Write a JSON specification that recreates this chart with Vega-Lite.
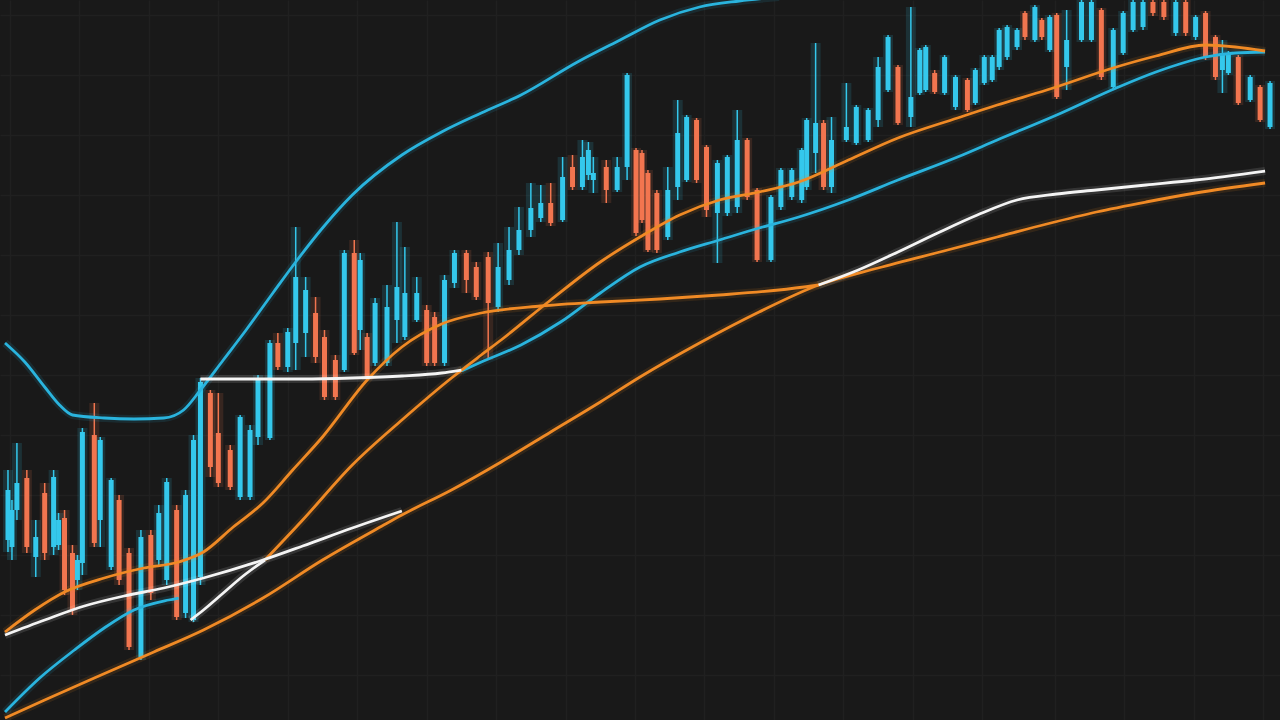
{
  "$schema": "https://vega.github.io/schema/vega-lite/v6.json",
  "width": 1280,
  "height": 720,
  "autosize": {"type": "fit", "contains": "padding"},
  "padding": 0,
  "background": "#191919",
  "config": {
    "view": {"stroke": null},
    "axis": {"labels": false, "ticks": false, "domain": false, "title": null, "grid": true, "gridColor": "#202020", "gridWidth": 1.5}
  },
  "datasets": {
    "candles": [
      {"t":3,"d":"up","o":180,"h":250,"l":168,"c":230},
      {"t":7,"d":"up","o":173,"h":220,"l":160,"c":210},
      {"t":12,"d":"up","o":210,"h":277,"l":200,"c":237},
      {"t":22,"d":"down","o":242,"h":250,"l":167,"c":173},
      {"t":31,"d":"up","o":163,"h":200,"l":143,"c":183},
      {"t":40,"d":"down","o":227,"h":237,"l":160,"c":167},
      {"t":49,"d":"up","o":173,"h":250,"l":165,"c":243},
      {"t":54,"d":"up","o":175,"h":207,"l":170,"c":200},
      {"t":60,"d":"down","o":202,"h":210,"l":125,"c":130},
      {"t":68,"d":"down","o":167,"h":175,"l":105,"c":110},
      {"t":73,"d":"up","o":140,"h":165,"l":130,"c":160},
      {"t":78,"d":"up","o":157,"h":292,"l":145,"c":288},
      {"t":90,"d":"down","o":285,"h":317,"l":173,"c":177},
      {"t":96,"d":"up","o":200,"h":283,"l":173,"c":280},
      {"t":107,"d":"up","o":153,"h":242,"l":150,"c":240},
      {"t":115,"d":"down","o":220,"h":225,"l":135,"c":140},
      {"t":125,"d":"down","o":167,"h":172,"l":70,"c":73},
      {"t":137,"d":"up","o":63,"h":190,"l":60,"c":183},
      {"t":147,"d":"down","o":185,"h":190,"l":120,"c":127},
      {"t":155,"d":"up","o":160,"h":215,"l":155,"c":207},
      {"t":163,"d":"up","o":140,"h":242,"l":135,"c":238},
      {"t":173,"d":"down","o":210,"h":215,"l":100,"c":103},
      {"t":182,"d":"up","o":107,"h":230,"l":102,"c":225},
      {"t":190,"d":"up","o":100,"h":285,"l":98,"c":280},
      {"t":197,"d":"up","o":143,"h":342,"l":135,"c":338},
      {"t":207,"d":"down","o":327,"h":330,"l":243,"c":253},
      {"t":215,"d":"down","o":287,"h":327,"l":233,"c":237},
      {"t":227,"d":"down","o":270,"h":275,"l":230,"c":233},
      {"t":237,"d":"up","o":223,"h":305,"l":220,"c":303},
      {"t":247,"d":"up","o":223,"h":295,"l":220,"c":290},
      {"t":255,"d":"up","o":283,"h":345,"l":275,"c":340},
      {"t":267,"d":"up","o":282,"h":380,"l":280,"c":377},
      {"t":275,"d":"down","o":377,"h":387,"l":350,"c":353},
      {"t":285,"d":"up","o":353,"h":392,"l":348,"c":388},
      {"t":293,"d":"up","o":377,"h":493,"l":350,"c":443},
      {"t":303,"d":"up","o":387,"h":443,"l":363,"c":430},
      {"t":313,"d":"down","o":407,"h":423,"l":357,"c":363},
      {"t":322,"d":"down","o":383,"h":390,"l":320,"c":323},
      {"t":333,"d":"down","o":360,"h":365,"l":320,"c":323},
      {"t":342,"d":"up","o":350,"h":470,"l":348,"c":467},
      {"t":352,"d":"down","o":467,"h":480,"l":365,"c":367},
      {"t":358,"d":"up","o":390,"h":467,"l":370,"c":460},
      {"t":365,"d":"down","o":383,"h":387,"l":340,"c":343},
      {"t":373,"d":"up","o":357,"h":422,"l":354,"c":417},
      {"t":385,"d":"up","o":357,"h":435,"l":354,"c":413},
      {"t":395,"d":"up","o":400,"h":498,"l":377,"c":433},
      {"t":403,"d":"up","o":383,"h":473,"l":380,"c":427},
      {"t":415,"d":"up","o":400,"h":443,"l":398,"c":427},
      {"t":425,"d":"down","o":410,"h":415,"l":354,"c":357},
      {"t":433,"d":"down","o":403,"h":408,"l":354,"c":357},
      {"t":443,"d":"up","o":357,"h":445,"l":354,"c":440},
      {"t":453,"d":"up","o":437,"h":470,"l":432,"c":467},
      {"t":465,"d":"down","o":467,"h":470,"l":427,"c":440},
      {"t":475,"d":"down","o":453,"h":458,"l":420,"c":423},
      {"t":487,"d":"down","o":463,"h":468,"l":360,"c":417},
      {"t":497,"d":"up","o":413,"h":477,"l":408,"c":453},
      {"t":508,"d":"up","o":440,"h":493,"l":435,"c":470},
      {"t":518,"d":"up","o":470,"h":513,"l":465,"c":490},
      {"t":530,"d":"up","o":490,"h":537,"l":483,"c":512},
      {"t":540,"d":"up","o":502,"h":535,"l":498,"c":517},
      {"t":550,"d":"down","o":517,"h":537,"l":494,"c":497},
      {"t":562,"d":"up","o":500,"h":563,"l":498,"c":543},
      {"t":572,"d":"down","o":553,"h":565,"l":530,"c":533},
      {"t":582,"d":"up","o":533,"h":580,"l":530,"c":563},
      {"t":588,"d":"up","o":545,"h":578,"l":540,"c":570},
      {"t":593,"d":"up","o":540,"h":563,"l":527,"c":547},
      {"t":606,"d":"down","o":553,"h":560,"l":517,"c":530},
      {"t":617,"d":"up","o":530,"h":563,"l":528,"c":553},
      {"t":627,"d":"up","o":553,"h":647,"l":540,"c":645},
      {"t":636,"d":"down","o":570,"h":572,"l":484,"c":487},
      {"t":642,"d":"down","o":567,"h":570,"l":497,"c":500},
      {"t":648,"d":"down","o":547,"h":550,"l":468,"c":470},
      {"t":657,"d":"down","o":527,"h":530,"l":467,"c":470},
      {"t":668,"d":"up","o":483,"h":553,"l":480,"c":530},
      {"t":678,"d":"up","o":533,"h":620,"l":520,"c":587},
      {"t":687,"d":"up","o":540,"h":605,"l":538,"c":603},
      {"t":697,"d":"down","o":600,"h":602,"l":537,"c":540},
      {"t":707,"d":"down","o":573,"h":575,"l":503,"c":510},
      {"t":718,"d":"up","o":507,"h":560,"l":457,"c":557},
      {"t":728,"d":"up","o":507,"h":565,"l":504,"c":563},
      {"t":738,"d":"up","o":513,"h":610,"l":507,"c":580},
      {"t":748,"d":"down","o":580,"h":582,"l":520,"c":523},
      {"t":758,"d":"down","o":530,"h":532,"l":458,"c":460},
      {"t":772,"d":"up","o":460,"h":525,"l":458,"c":523},
      {"t":782,"d":"up","o":513,"h":552,"l":510,"c":550},
      {"t":793,"d":"up","o":523,"h":552,"l":520,"c":550},
      {"t":803,"d":"up","o":520,"h":572,"l":517,"c":570},
      {"t":808,"d":"up","o":533,"h":602,"l":530,"c":600},
      {"t":817,"d":"up","o":567,"h":677,"l":547,"c":597},
      {"t":825,"d":"down","o":597,"h":600,"l":530,"c":533},
      {"t":833,"d":"up","o":533,"h":603,"l":527,"c":580},
      {"t":848,"d":"up","o":580,"h":637,"l":578,"c":593},
      {"t":858,"d":"up","o":577,"h":615,"l":575,"c":613},
      {"t":870,"d":"up","o":580,"h":612,"l":578,"c":610},
      {"t":880,"d":"up","o":600,"h":663,"l":593,"c":653},
      {"t":890,"d":"up","o":630,"h":685,"l":628,"c":683},
      {"t":900,"d":"down","o":653,"h":655,"l":595,"c":597},
      {"t":913,"d":"up","o":603,"h":713,"l":593,"c":623},
      {"t":922,"d":"up","o":627,"h":672,"l":625,"c":670},
      {"t":928,"d":"up","o":630,"h":675,"l":628,"c":673},
      {"t":937,"d":"down","o":647,"h":650,"l":626,"c":628},
      {"t":947,"d":"up","o":627,"h":665,"l":625,"c":663},
      {"t":958,"d":"up","o":613,"h":645,"l":610,"c":643},
      {"t":970,"d":"down","o":640,"h":642,"l":608,"c":610},
      {"t":978,"d":"up","o":617,"h":652,"l":615,"c":650},
      {"t":987,"d":"up","o":637,"h":665,"l":635,"c":663},
      {"t":995,"d":"up","o":640,"h":665,"l":638,"c":663},
      {"t":1002,"d":"up","o":653,"h":692,"l":650,"c":690},
      {"t":1010,"d":"up","o":663,"h":695,"l":660,"c":693},
      {"t":1020,"d":"up","o":673,"h":692,"l":670,"c":690},
      {"t":1028,"d":"down","o":707,"h":709,"l":680,"c":683},
      {"t":1038,"d":"up","o":680,"h":715,"l":678,"c":713},
      {"t":1045,"d":"down","o":700,"h":702,"l":680,"c":683},
      {"t":1053,"d":"up","o":670,"h":705,"l":668,"c":703},
      {"t":1060,"d":"down","o":705,"h":707,"l":621,"c":623},
      {"t":1070,"d":"up","o":653,"h":710,"l":630,"c":680},
      {"t":1085,"d":"up","o":680,"h":725,"l":678,"c":718},
      {"t":1095,"d":"up","o":680,"h":725,"l":678,"c":718},
      {"t":1105,"d":"down","o":710,"h":712,"l":640,"c":643},
      {"t":1117,"d":"up","o":633,"h":692,"l":631,"c":690},
      {"t":1127,"d":"up","o":667,"h":709,"l":665,"c":707},
      {"t":1137,"d":"up","o":690,"h":725,"l":688,"c":718},
      {"t":1147,"d":"up","o":693,"h":725,"l":690,"c":718},
      {"t":1157,"d":"down","o":718,"h":725,"l":704,"c":707},
      {"t":1168,"d":"down","o":718,"h":725,"l":700,"c":703},
      {"t":1180,"d":"up","o":687,"h":725,"l":684,"c":718},
      {"t":1190,"d":"down","o":718,"h":725,"l":684,"c":687},
      {"t":1200,"d":"up","o":683,"h":705,"l":680,"c":703},
      {"t":1210,"d":"down","o":707,"h":709,"l":660,"c":663},
      {"t":1220,"d":"down","o":683,"h":685,"l":640,"c":643},
      {"t":1227,"d":"up","o":650,"h":680,"l":627,"c":665},
      {"t":1233,"d":"up","o":647,"h":669,"l":645,"c":667},
      {"t":1243,"d":"down","o":663,"h":665,"l":615,"c":617},
      {"t":1255,"d":"up","o":620,"h":645,"l":618,"c":643},
      {"t":1265,"d":"down","o":633,"h":635,"l":598,"c":600},
      {"t":1275,"d":"up","o":593,"h":639,"l":591,"c":637}
    ],
    "lines": [
      {"s":"bbU","k":"cyan","t":0,"v":377},{"s":"bbU","k":"cyan","t":20,"v":358},{"s":"bbU","k":"cyan","t":40,"v":333},{"s":"bbU","k":"cyan","t":55,"v":315},{"s":"bbU","k":"cyan","t":68,"v":305},{"s":"bbU","k":"cyan","t":100,"v":302},{"s":"bbU","k":"cyan","t":130,"v":301},{"s":"bbU","k":"cyan","t":160,"v":302},{"s":"bbU","k":"cyan","t":180,"v":310},{"s":"bbU","k":"cyan","t":197,"v":330},{"s":"bbU","k":"cyan","t":220,"v":360},{"s":"bbU","k":"cyan","t":243,"v":390},{"s":"bbU","k":"cyan","t":270,"v":427},{"s":"bbU","k":"cyan","t":293,"v":458},{"s":"bbU","k":"cyan","t":320,"v":492},{"s":"bbU","k":"cyan","t":350,"v":525},{"s":"bbU","k":"cyan","t":400,"v":565},{"s":"bbU","k":"cyan","t":440,"v":588},{"s":"bbU","k":"cyan","t":480,"v":607},{"s":"bbU","k":"cyan","t":520,"v":625},{"s":"bbU","k":"cyan","t":577,"v":658},{"s":"bbU","k":"cyan","t":620,"v":680},{"s":"bbU","k":"cyan","t":660,"v":700},{"s":"bbU","k":"cyan","t":700,"v":713},{"s":"bbU","k":"cyan","t":740,"v":719},{"s":"bbU","k":"cyan","t":780,"v":723},
      {"s":"bbL1","k":"cyan","t":0,"v":8},{"s":"bbL1","k":"cyan","t":35,"v":42},{"s":"bbL1","k":"cyan","t":70,"v":70},{"s":"bbL1","k":"cyan","t":100,"v":92},{"s":"bbL1","k":"cyan","t":130,"v":110},{"s":"bbL1","k":"cyan","t":165,"v":120},{"s":"bbL1","k":"cyan","t":175,"v":122},
      {"s":"bbL2","k":"cyan","t":460,"v":349},{"s":"bbL2","k":"cyan","t":480,"v":358},{"s":"bbL2","k":"cyan","t":520,"v":375},{"s":"bbL2","k":"cyan","t":560,"v":398},{"s":"bbL2","k":"cyan","t":600,"v":427},{"s":"bbL2","k":"cyan","t":640,"v":453},{"s":"bbL2","k":"cyan","t":680,"v":468},{"s":"bbL2","k":"cyan","t":720,"v":480},{"s":"bbL2","k":"cyan","t":760,"v":492},{"s":"bbL2","k":"cyan","t":800,"v":503},{"s":"bbL2","k":"cyan","t":850,"v":520},{"s":"bbL2","k":"cyan","t":900,"v":540},{"s":"bbL2","k":"cyan","t":960,"v":563},{"s":"bbL2","k":"cyan","t":1000,"v":580},{"s":"bbL2","k":"cyan","t":1060,"v":605},{"s":"bbL2","k":"cyan","t":1120,"v":632},{"s":"bbL2","k":"cyan","t":1160,"v":648},{"s":"bbL2","k":"cyan","t":1210,"v":663},{"s":"bbL2","k":"cyan","t":1240,"v":667},{"s":"bbL2","k":"cyan","t":1270,"v":668},
      {"s":"oa","k":"orange","t":0,"v":88},{"s":"oa","k":"orange","t":30,"v":110},{"s":"oa","k":"orange","t":60,"v":128},{"s":"oa","k":"orange","t":100,"v":142},{"s":"oa","k":"orange","t":140,"v":152},{"s":"oa","k":"orange","t":175,"v":158},{"s":"oa","k":"orange","t":200,"v":168},{"s":"oa","k":"orange","t":230,"v":193},{"s":"oa","k":"orange","t":260,"v":217},{"s":"oa","k":"orange","t":290,"v":250},{"s":"oa","k":"orange","t":320,"v":283},{"s":"oa","k":"orange","t":365,"v":340},{"s":"oa","k":"orange","t":400,"v":373},{"s":"oa","k":"orange","t":440,"v":396},{"s":"oa","k":"orange","t":480,"v":407},{"s":"oa","k":"orange","t":540,"v":414},{"s":"oa","k":"orange","t":600,"v":418},{"s":"oa","k":"orange","t":660,"v":421},{"s":"oa","k":"orange","t":720,"v":425},{"s":"oa","k":"orange","t":780,"v":430},{"s":"oa","k":"orange","t":820,"v":435},
      {"s":"ob","k":"orange","t":262,"v":160},{"s":"ob","k":"orange","t":300,"v":200},{"s":"ob","k":"orange","t":350,"v":255},{"s":"ob","k":"orange","t":400,"v":300},{"s":"ob","k":"orange","t":450,"v":342},{"s":"ob","k":"orange","t":480,"v":365},{"s":"ob","k":"orange","t":500,"v":380},{"s":"ob","k":"orange","t":550,"v":420},{"s":"ob","k":"orange","t":600,"v":458},{"s":"ob","k":"orange","t":640,"v":483},{"s":"ob","k":"orange","t":680,"v":505},{"s":"ob","k":"orange","t":720,"v":520},{"s":"ob","k":"orange","t":760,"v":528},{"s":"ob","k":"orange","t":800,"v":538},{"s":"ob","k":"orange","t":850,"v":560},{"s":"ob","k":"orange","t":900,"v":582},{"s":"ob","k":"orange","t":960,"v":602},{"s":"ob","k":"orange","t":1000,"v":615},{"s":"ob","k":"orange","t":1050,"v":630},{"s":"ob","k":"orange","t":1120,"v":653},{"s":"ob","k":"orange","t":1160,"v":664},{"s":"ob","k":"orange","t":1210,"v":675},{"s":"ob","k":"orange","t":1240,"v":673},{"s":"ob","k":"orange","t":1270,"v":669},
      {"s":"oc","k":"orange","t":0,"v":2},{"s":"oc","k":"orange","t":40,"v":20},{"s":"oc","k":"orange","t":90,"v":42},{"s":"oc","k":"orange","t":150,"v":68},{"s":"oc","k":"orange","t":200,"v":90},{"s":"oc","k":"orange","t":260,"v":122},{"s":"oc","k":"orange","t":320,"v":160},{"s":"oc","k":"orange","t":380,"v":194},{"s":"oc","k":"orange","t":400,"v":205},{"s":"oc","k":"orange","t":450,"v":230},{"s":"oc","k":"orange","t":500,"v":258},{"s":"oc","k":"orange","t":550,"v":288},{"s":"oc","k":"orange","t":600,"v":318},{"s":"oc","k":"orange","t":640,"v":343},{"s":"oc","k":"orange","t":700,"v":377},{"s":"oc","k":"orange","t":760,"v":408},{"s":"oc","k":"orange","t":820,"v":435},{"s":"oc","k":"orange","t":880,"v":452},{"s":"oc","k":"orange","t":950,"v":470},{"s":"oc","k":"orange","t":1000,"v":483},{"s":"oc","k":"orange","t":1050,"v":496},{"s":"oc","k":"orange","t":1100,"v":508},{"s":"oc","k":"orange","t":1150,"v":518},{"s":"oc","k":"orange","t":1200,"v":527},{"s":"oc","k":"orange","t":1270,"v":537},
      {"s":"w0","k":"white","t":197,"v":341},{"s":"w0","k":"white","t":250,"v":341},{"s":"w0","k":"white","t":300,"v":341},{"s":"w0","k":"white","t":350,"v":342},{"s":"w0","k":"white","t":400,"v":344},{"s":"w0","k":"white","t":440,"v":347},{"s":"w0","k":"white","t":460,"v":350},
      {"s":"w1","k":"white","t":0,"v":85},{"s":"w1","k":"white","t":40,"v":100},{"s":"w1","k":"white","t":80,"v":114},{"s":"w1","k":"white","t":120,"v":124},{"s":"w1","k":"white","t":160,"v":132},{"s":"w1","k":"white","t":200,"v":142},{"s":"w1","k":"white","t":260,"v":160},{"s":"w1","k":"white","t":300,"v":174},{"s":"w1","k":"white","t":350,"v":192},{"s":"w1","k":"white","t":400,"v":209},
      {"s":"w2","k":"white","t":187,"v":100},{"s":"w2","k":"white","t":200,"v":110},{"s":"w2","k":"white","t":220,"v":127},{"s":"w2","k":"white","t":240,"v":144},{"s":"w2","k":"white","t":262,"v":160},
      {"s":"w3","k":"white","t":820,"v":435},{"s":"w3","k":"white","t":860,"v":450},{"s":"w3","k":"white","t":900,"v":468},{"s":"w3","k":"white","t":940,"v":487},{"s":"w3","k":"white","t":980,"v":505},{"s":"w3","k":"white","t":1020,"v":520},{"s":"w3","k":"white","t":1060,"v":526},{"s":"w3","k":"white","t":1100,"v":530},{"s":"w3","k":"white","t":1150,"v":535},{"s":"w3","k":"white","t":1200,"v":540},{"s":"w3","k":"white","t":1270,"v":549}
    ]
  },
  "layer": [
    {
      "data": {"name": "candles"},
      "mark": {"type": "bar", "width": 10, "opacity": 0.14, "clip": true},
      "encoding": {
        "x": {"field": "t", "type": "quantitative", "scale": {"domain": [0, 1280], "nice": false}, "axis": {"values": [5, 75, 145, 215, 285, 355, 425, 495, 565, 635, 705, 775, 845, 915, 985, 1058, 1128, 1198, 1268]}},
        "y": {"field": "l", "type": "quantitative", "scale": {"domain": [0, 720], "nice": false, "zero": false}, "axis": {"values": [45, 105, 165, 225, 285, 345, 405, 465, 525, 585, 645, 705]}},
        "y2": {"field": "h"},
        "color": {"field": "d", "type": "nominal", "legend": null, "scale": {"domain": ["up", "down", "cyan", "orange", "white"], "range": ["#34c8ec", "#f2754f", "#2ab4de", "#f08a25", "#f4f4f4"]}}
      }
    },
    {
      "data": {"name": "candles"},
      "mark": {"type": "rule", "strokeWidth": 1.5, "clip": true},
      "encoding": {
        "x": {"field": "t", "type": "quantitative"},
        "y": {"field": "l", "type": "quantitative"},
        "y2": {"field": "h"},
        "color": {"field": "d", "type": "nominal", "legend": null}
      }
    },
    {
      "data": {"name": "candles"},
      "mark": {"type": "bar", "width": 5, "clip": true},
      "encoding": {
        "x": {"field": "t", "type": "quantitative"},
        "y": {"field": "o", "type": "quantitative"},
        "y2": {"field": "c"},
        "color": {"field": "d", "type": "nominal", "legend": null}
      }
    },
    {
      "data": {"name": "lines"},
      "mark": {"type": "line", "strokeWidth": 8, "opacity": 0.12, "interpolate": "monotone", "clip": true},
      "encoding": {
        "x": {"field": "t", "type": "quantitative"},
        "y": {"field": "v", "type": "quantitative"},
        "detail": {"field": "s", "type": "nominal"},
        "color": {"field": "k", "type": "nominal", "legend": null}
      }
    },
    {
      "data": {"name": "lines"},
      "mark": {"type": "line", "strokeWidth": 2.8, "interpolate": "monotone", "clip": true},
      "encoding": {
        "x": {"field": "t", "type": "quantitative"},
        "y": {"field": "v", "type": "quantitative"},
        "detail": {"field": "s", "type": "nominal"},
        "color": {"field": "k", "type": "nominal", "legend": null}
      }
    }
  ]
}
